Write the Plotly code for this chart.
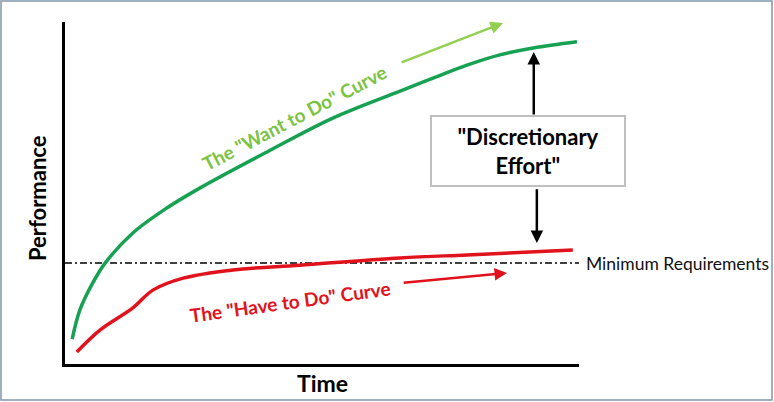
import plotly.graph_objects as go

# curves (x = time, y = performance, both 0..100)
want_x = [1.4, 2.9, 5.4, 7.8, 13.2, 19.8, 26.3, 39.3, 52.1, 65.2, 71.6, 78.2, 84.6, 91.1, 99.6]
want_y = [7.3, 15.8, 23.7, 29.5, 38.3, 45.6, 51.5, 62.0, 71.9, 79.8, 83.6, 87.4, 90.4, 92.4, 94.2]

have_x = [2.3, 6.8, 13.2, 17.1, 23.0, 32.7, 45.7, 65.2, 78.2, 98.8]
have_y = [3.5, 9.9, 16.4, 21.6, 25.1, 27.5, 28.9, 31.0, 31.9, 33.3]

min_req_x = [0, 100]
min_req_y = [29.5, 29.5]

FONT = "Lato"
GREEN = "#17a152"
LIGHT_GREEN = "#7cc243"
RED = "#e0121c"

fig = go.Figure()
fig.add_trace(go.Scatter(x=min_req_x, y=min_req_y, mode="lines",
                         line=dict(color="black", width=1.5, dash="7px,3px,2px,3px")))
fig.add_trace(go.Scatter(x=want_x, y=want_y, mode="lines",
                         line=dict(color=GREEN, width=3.5, shape="spline")))
fig.add_trace(go.Scatter(x=have_x, y=have_y, mode="lines",
                         line=dict(color=RED, width=3.5, shape="spline")))

ann = []
# curve labels
ann.append(dict(x=44.6, y=72.2, text='The "Want to Do" Curve', showarrow=False, textangle=-27.5,
                font=dict(family=FONT, size=19, color=LIGHT_GREEN, weight="bold")))
ann.append(dict(x=43.8, y=18.4, text='The "Have to Do" Curve', showarrow=False, textangle=-7.8,
                font=dict(family=FONT, size=19, color=RED, weight="bold")))
# direction arrows
ann.append(dict(x=85.2, y=99.7, ax=65.2, ay=88.0, axref="x", ayref="y", text="", showarrow=True,
                arrowhead=2, arrowsize=1, arrowwidth=2.5, arrowcolor="#92d050"))
ann.append(dict(x=86.0, y=26.6, ax=65.6, ay=23.7, axref="x", ayref="y", text="", showarrow=True,
                arrowhead=2, arrowsize=1, arrowwidth=2.5, arrowcolor=RED))
# discretionary effort arrows
ann.append(dict(x=91.2, y=91.2, ax=91.2, ay=72.5, axref="x", ayref="y", text="", showarrow=True,
                arrowhead=2, arrowsize=1, arrowwidth=2.5, arrowcolor="black"))
ann.append(dict(x=91.8, y=35.4, ax=91.8, ay=51.5, axref="x", ayref="y", text="", showarrow=True,
                arrowhead=2, arrowsize=1, arrowwidth=2.5, arrowcolor="black"))
ann.append(dict(x=90.1, y=62.3, text='"Discretionary<br>Effort"', showarrow=False,
                width=190, height=66, bgcolor="white", bordercolor="#bfbfbf", borderwidth=2,
                font=dict(family=FONT, size=22, color="black", weight="bold")))
ann.append(dict(xref="paper", x=1.0097, y=min_req_y[0], text="Minimum Requirements", showarrow=False,
                xanchor="left", yanchor="middle",
                font=dict(family=FONT, size=17.5, color="#111111")))
# axis titles
ann.append(dict(xref="paper", yref="paper", x=-0.0545, y=0.485, text="Performance", showarrow=False,
                xanchor="center", yanchor="middle", textangle=-90,
                font=dict(family=FONT, size=22, color="black", weight="bold")))
ann.append(dict(xref="paper", yref="paper", x=0.5, y=-0.056, text="Time", showarrow=False,
                xanchor="center", yanchor="middle",
                font=dict(family=FONT, size=23, color="black", weight="bold")))

fig.update_layout(
    width=774, height=402,
    margin=dict(l=65, r=195, t=22, b=38),
    plot_bgcolor="white", paper_bgcolor="white",
    showlegend=False,
    annotations=ann,
    shapes=[dict(type="rect", xref="paper", yref="paper",
                 x0=-0.1245, x1=1.3755, y0=-0.105, y1=1.0614,
                 line=dict(color="#8096ab", width=1.5))],
)
fig.update_xaxes(range=[0, 100], showline=True, linecolor="black", linewidth=2.5,
                 showgrid=False, zeroline=False, showticklabels=False, ticks="")
fig.update_yaxes(range=[0, 100], showline=True, linecolor="black", linewidth=2.5,
                 showgrid=False, zeroline=False, showticklabels=False, ticks="")

fig.write_html("out.html", config={"displayModeBar": False},
               post_script="document.body.style.margin='0';")
